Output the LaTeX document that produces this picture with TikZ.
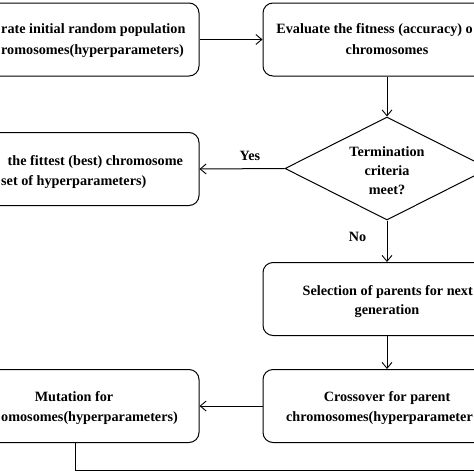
\documentclass[tikz,border=0pt]{standalone}
\usepackage{fontspec}
\setmainfont{Liberation Serif}
\usetikzlibrary{shapes.geometric,arrows.meta}
\begin{document}
\begin{tikzpicture}[x=1pt,y=-1pt,
  every node/.style={font=\fontsize{14.2}{19}\selectfont\bfseries},
  box/.style={draw,line width=1pt,rounded corners=10pt,minimum width=248pt,minimum height=73pt,inner sep=0pt},
  dia/.style={draw,line width=1pt,diamond,minimum width=204pt,minimum height=103pt,inner sep=0pt},
  txt/.style={inner sep=0pt},
  conn/.style={draw,line width=1pt,-{Straight Barb[length=6pt,width=10pt,line width=0.9pt]}},
  plain/.style={draw,line width=1pt}]
\useasboundingbox (0,0) rectangle (474,474);
\clip (0,0) rectangle (474,474);
\fill[white] (0,0) rectangle (474,474);
% boxes
\node[box] (A) at (75,39.5) {};
\node[box] (B) at (387,39.5) {};
\node[dia] (D) at (387,168.5) {};
\node[box] (C) at (75,169) {};
\node[box] (E) at (387,299) {};
\node[box] (F) at (387,406) {};
\node[box] (G) at (75,406) {};
% texts
\node[txt,anchor=base west] (a1) at (1,33.5) {rate initial random population};
\node[txt,anchor=base west] (a2) at (1,54) {romosomes(hyperparameters)};
\node[txt,anchor=base east] (b1) at (473,33.5) {Evaluate the fitness (accuracy) o};
\node[txt,anchor=base] (b2) at (387,54) {chromosomes};
\node[txt,anchor=base] (d1) at (387,156.5) {Termination};
\node[txt,anchor=base] (d2) at (387,175.5) {criteria};
\node[txt,anchor=base] (d3) at (387,194.5) {meet?};
\node[txt,anchor=base west] (c1) at (7.5,165.5) {the fittest (best) chromosome};
\node[txt,anchor=base west] (c2) at (1,185) {set of hyperparameters)};
\node[txt,anchor=base east] (e1) at (473,295) {Selection of parents for next};
\node[txt,anchor=base] (e2) at (387,314) {generation};
\node[txt,anchor=base] (f1) at (387,401.5) {Crossover for parent};
\node[txt,anchor=base east] (f2) at (473,421.5) {chromosomes(hyperparameter};
\node[txt,anchor=base] (g1) at (74,401.5) {Mutation for};
\node[txt,anchor=base west] (g2) at (1,421.5) {omosomes(hyperparameters)};
\node[txt,anchor=base] (yes) at (250,160.5) {Yes};
\node[txt,anchor=base] (no) at (357.5,241) {No};
\coordinate (fb) at (485,470);
% connectors
\path[conn] (A.east) -- (B.west);
\path[conn] (B.south) -- (D.north);
\path[conn] (D.west) -- (C.east);
\path[conn] (D.south) -- (E.north);
\path[conn] (E.south) -- (F.north);
\path[conn] (F.west) -- (G.east);
\path[plain] (G.south) |- (fb);
\end{tikzpicture}
\end{document}
